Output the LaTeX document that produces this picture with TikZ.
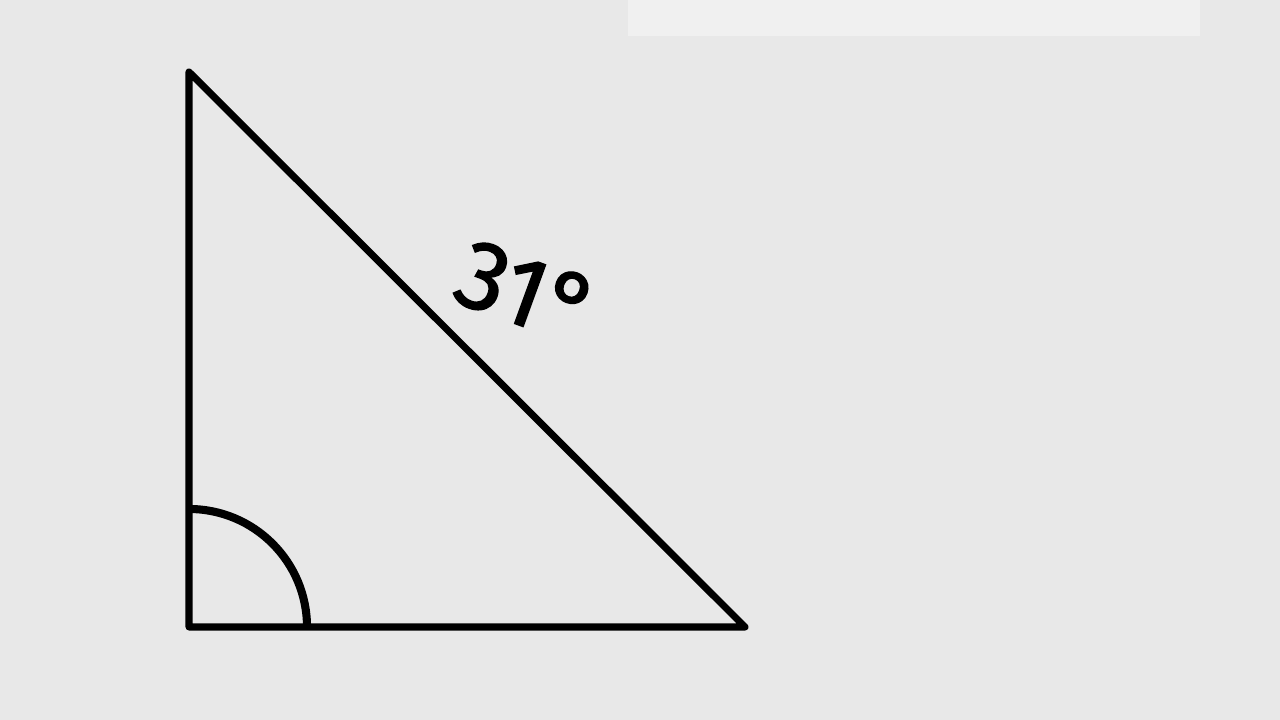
\documentclass[tikz,border=0pt]{standalone}
\usepackage{fontspec}
\setmainfont{Fira Sans}
\newfontfamily\labelfont[FakeBold=1.3]{Fira Sans}
\usepackage{tikz}
\usetikzlibrary{calc, positioning}
\definecolor{bggray}{HTML}{E8E8E8}
\definecolor{panelgray}{HTML}{F0F0F0}
\tikzstyle{side} = [draw=black, line width=2.0pt, line join=round]
\tikzstyle{rightarc} = [draw=black, line width=2.3pt]
\tikzstyle{anglelabel} = [font=\labelfont\fontsize{28}{30}\selectfont, inner sep=0pt]

\begin{document}
\begin{tikzpicture}
            \fill[bggray] (0, 0) rectangle (12.8, 7.2);
            \useasboundingbox (0, 0) rectangle (12.8, 7.2);
            \fill[panelgray] (6.28, 6.84) rectangle (12.0, 7.2);

            \coordinate (apex) at (1.89, 6.48);
            \coordinate (corner) at (1.89, 0.93);
            \coordinate (foot) at (7.45, 0.93);

            \draw[side] (apex) -- (corner) -- (foot) -- cycle;
            \draw[rightarc] ($(corner)+(0, 1.18)$) arc (90:0:1.18);

            \node[anglelabel, rotate=-20, name=angle] at (5.27, 4.28) {31°};
        \end{tikzpicture}
\end{document}
